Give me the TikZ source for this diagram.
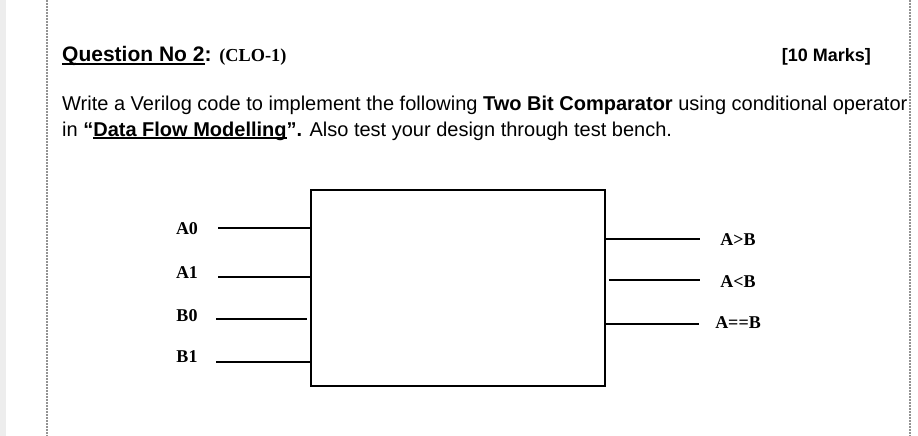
\documentclass[tikz,border=0pt]{standalone}
\usepackage{fontspec}
\setmainfont{Liberation Sans}
\newfontfamily\timesfont{Liberation Serif}
\usetikzlibrary{positioning}

\newcommand\undl[1]{\setbox0\hbox{#1}\rlap{\rule[-2.6pt]{\wd0}{1.5pt}}\box0}

\begin{document}
\begin{tikzpicture}[x=1pt,y=-1pt,
    portlbl/.style={font=\timesfont\bfseries\fontsize{18}{20}\selectfont, inner sep=0pt},
    wire/.style={line width=2.8pt},
    pagerule/.style={draw=gray!85, line width=1.8pt, dash pattern=on 1.8pt off 1.2pt}]
  \useasboundingbox (0,0) rectangle (918,436);
  \fill[white] (0,0) rectangle (918,436);
  \fill[gray!14] (0,0) rectangle (6,436);
  \draw[pagerule] (47,0) -- (47,436);
  \draw[pagerule] (910,0) -- (910,436);

  % question text
  \node[anchor=base west, inner sep=0pt, font=\bfseries\fontsize{21}{24}\selectfont] (qtitle) at (62,62)
    {\undl{Question No 2}: {\timesfont\fontsize{18.3}{20}\selectfont(CLO-1)}};
  \node[anchor=base east, inner sep=0pt, font=\bfseries\fontsize{18}{20}\selectfont] (marks) at (871,62) {[10 Marks]};
  \node[anchor=base west, inner sep=0pt, font=\fontsize{20}{24}\selectfont] (line1) at (62,110)
    {Write a Verilog code to implement the following \textbf{Two Bit Comparator} using conditional operator};
  \node[anchor=base west, inner sep=0pt, font=\fontsize{20}{24}\selectfont] (line2) at (62,136)
    {in \textbf{``\undl{Data Flow Modelling}''.} Also test your design through test bench.};

  % comparator block
  \node[draw, line width=2.8pt, minimum width=294pt, minimum height=196pt, inner sep=0pt] (cmp) at (458,288) {};

  % inputs
  \node[portlbl] (a0) at (187,229) {A0};
  \node[portlbl] (a1) at (187,273) {A1};
  \node[portlbl] (b0) at (187,316) {B0};
  \node[portlbl] (b1) at (187,357) {B1};
  \coordinate (a0w) at (218,228);
  \coordinate (a1w) at (218,277);
  \coordinate (b0w) at (216,319);
  \coordinate (b0e) at (307,319);
  \coordinate (b1w) at (216,362);
  \draw[wire] (a0w) -- (a0w -| cmp.west);
  \draw[wire] (a1w) -- (a1w -| cmp.west);
  \draw[wire] (b0w) -- (b0e);
  \draw[wire] (b1w) -- (b1w -| cmp.west);

  % outputs
  \node[portlbl] (gt) at (738,240) {A>B};
  \node[portlbl] (lt) at (738,282) {A<B};
  \node[portlbl] (eq) at (738,323) {A==B};
  \coordinate (gte) at (700,239);
  \coordinate (lte) at (700,280);
  \coordinate (eqe) at (699,324);
  \draw[wire] (cmp.east |- gte) -- (gte);
  \draw[wire] ([xshift=3pt]cmp.east |- lte) -- (lte);
  \draw[wire] (cmp.east |- eqe) -- (eqe);
\end{tikzpicture}
\end{document}
